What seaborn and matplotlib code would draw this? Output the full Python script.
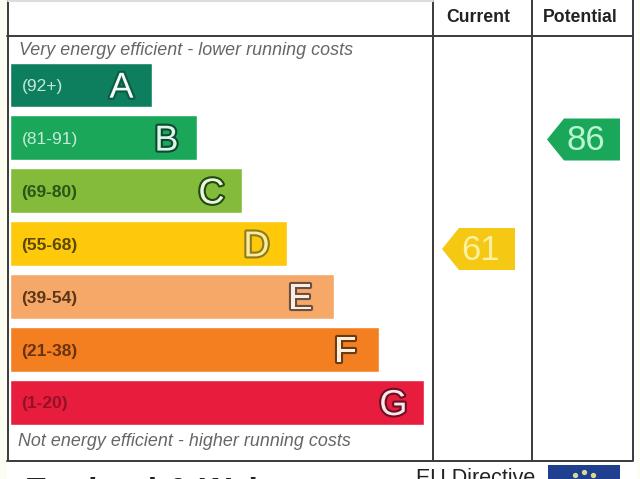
#!/usr/bin/env python3
"""EPC energy efficiency rating chart, bands A-G with current/potential tags."""
import matplotlib
matplotlib.use('Agg')
import matplotlib.patheffects as pe
import matplotlib.pyplot as plt
import pandas as pd
import seaborn as sns
from matplotlib.patches import Polygon, Rectangle

bands = ['A', 'B', 'C', 'D', 'E', 'F', 'G']
ranges = ['(92+)', '(81-91)', '(69-80)', '(55-68)', '(39-54)', '(21-38)', '(1-20)']
bar_lengths = [142, 187, 232, 277, 324, 369, 414]
bar_colors = ['#0d7f5f', '#1aa75a', '#84bb3a', '#fdc90a', '#f6a868', '#f47f20', '#e81c3c']
range_colors = ['#d8f3e6', '#d8f3e6', '#1f4a14', '#4a3a05', '#4a2a10', '#5a2a10', '#8a1025']
letter_fills = ['#f2fbf6', '#dcf5e8', '#eef5dc', '#fdeb9a', '#fbeee0', '#fdeedd', '#fbe6ea']
letter_edges = ['#0a5a44', '#0c4a30', '#1f4a14', '#8a7a20', '#6a5040', '#6a3a10', '#6a1025']

current_score = 61
potential_score = 86
current_color = '#f5c814'
potential_color = '#1aa75a'

top_note = 'Very energy efficient - lower running costs'
bottom_note = 'Not energy efficient - higher running costs'

sns.set_theme(style='white')
plt.rcParams['font.family'] = ['Liberation Sans', 'DejaVu Sans']

df = pd.DataFrame({'band': bands, 'length': bar_lengths})

fig = plt.figure(figsize=(6.4, 4.79), dpi=100, facecolor='#fdfcf0')

# frame and text live on a pixel axes, bars go on top of it
px = fig.add_axes([0, 0, 1, 1])
px.set_xlim(0, 640)
px.set_ylim(479, 0)
px.axis('off')
px.add_patch(Rectangle((7, -5), 630, 490, fc='white', ec='none', zorder=0))

line_kw = dict(color='#3a3a3a', lw=1.4, zorder=3)
px.plot([7.5, 7.5], [0, 460], **line_kw)
px.plot([633, 633], [0, 460], **line_kw)
px.plot([433, 433], [0, 460], **line_kw)
px.plot([532, 532], [0, 460], **line_kw)
px.plot([7, 633], [36, 36], **line_kw)
px.plot([7, 633], [460.5, 460.5], **line_kw)
px.plot([8, 433], [0.5, 0.5], color='#dddddd', lw=1.5, zorder=3)

ax = fig.add_axes([0, 0, 1, 1])
ax.patch.set_alpha(0)
sns.barplot(data=df, y='band', x='length', hue='band', palette=bar_colors,
            order=bands, legend=False, width=0.85, saturation=1, ax=ax)
ax.set_xlim(-9.5, 630.5)
ax.set_ylim((479 - 85) / 52.9, -85 / 52.9)
ax.axis('off')

for i, (length, rng) in enumerate(zip(bar_lengths, ranges)):
    ax.text(12, i + 0.03, rng, fontsize=12.5, color=range_colors[i], ha='left', va='center',
            fontweight='bold' if i > 1 else 'normal', alpha=0.9)
    ax.text(length - 30 - (3 if bands[i] in 'EF' else 0), i + 0.06, bands[i], fontsize=26,
            color=letter_fills[i], ha='center', va='center',
            path_effects=[pe.withStroke(linewidth=3, foreground=letter_edges[i])])


def score_to_y(score):
    return 139.5 + (potential_score - score) * 4.38


def draw_tag(score, right, color):
    y = score_to_y(score)
    left = right - 73
    shape = [(left, y), (left + 17, y - 21), (right, y - 21), (right, y + 21), (left + 17, y + 21)]
    px.add_patch(Polygon(shape, closed=True, fc=color, ec='none', zorder=4))
    px.text(left + 39, y + 1, str(score), fontsize=25, color='#fdf0a0' if score < 80 else '#b8f5d0',
            ha='center', va='center', zorder=5)


draw_tag(current_score, 515, current_color)
draw_tag(potential_score, 620, potential_color)

px.text(478.5, 17, 'Current', fontsize=12.7, fontweight='bold', color='#222222', ha='center', va='center')
px.text(580.5, 17, 'Potential', fontsize=12.7, fontweight='bold', color='#222222', ha='center', va='center')
px.text(19, 50.5, top_note, fontsize=12.9, style='italic', color='#666666', ha='left', va='center')
px.text(18, 442, bottom_note, fontsize=12.9, style='italic', color='#666666', ha='left', va='center')
px.text(25, 477, 'England & Wales', fontsize=24, fontweight='bold', color='#222222', ha='left', va='top')
px.text(416, 468, 'EU Directive', fontsize=15.5, color='#222222', ha='left', va='top')
px.add_patch(Rectangle((548, 465), 72, 20, fc='#1f3f8f', ec='none', zorder=4))
px.scatter([575, 584, 593], [475, 472, 475], s=8, color='#d8d890', zorder=5)

fig.savefig('out.png', dpi=100, facecolor=fig.get_facecolor())
plt.close(fig)
